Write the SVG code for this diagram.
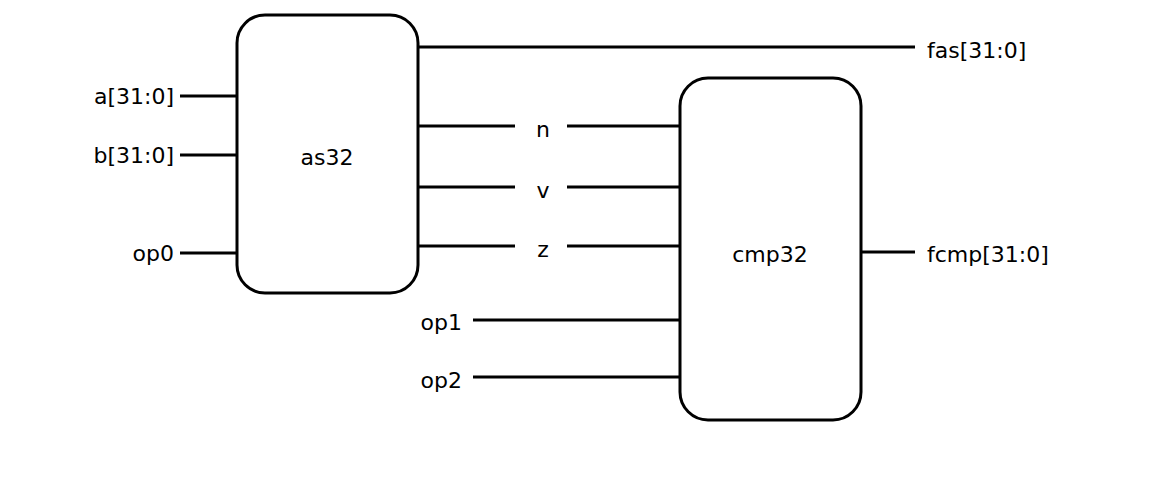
<svg xmlns="http://www.w3.org/2000/svg" width="1172" height="483" viewBox="0 0 1172 483">
<style>
.box{fill:#fff;stroke:#000;stroke-width:3}
.w{stroke:#000;stroke-width:3;fill:none}
text{font-family:"DejaVu Sans","Liberation Sans",sans-serif;font-size:22px;fill:#000;dominant-baseline:central}
.r{text-anchor:end}.m{text-anchor:middle}
</style>
<rect width="1172" height="483" fill="#fff"/>
<g id="connectors">
<path class="w" d="M180 96H237M180 155H237M180 253H237M418 47H915M418 126H515M567 126H680M418 187H515M567 187H680M418 246H515M567 246H680M473 320H680M473 377H680M861 252H915"/>
</g>
<g id="as32"><rect class="box" x="237" y="15" width="181" height="278" rx="28"/><text class="m" x="327" y="157">as32</text></g>
<g id="cmp32"><rect class="box" x="680" y="78" width="181" height="342" rx="28"/><text class="m" x="770" y="254">cmp32</text></g>
<g id="labels">
<text class="r" x="174" y="96">a[31:0]</text>
<text class="r" x="174" y="155">b[31:0]</text>
<text class="r" x="174" y="253">op0</text>
<text x="927" y="50">fas[31:0]</text>
<text class="m" x="543" y="129">n</text>
<text class="m" x="543" y="190">v</text>
<text class="m" x="543" y="249">z</text>
<text class="r" x="462" y="322">op1</text>
<text class="r" x="462" y="380">op2</text>
<text x="927" y="254">fcmp[31:0]</text>
</g>
</svg>
